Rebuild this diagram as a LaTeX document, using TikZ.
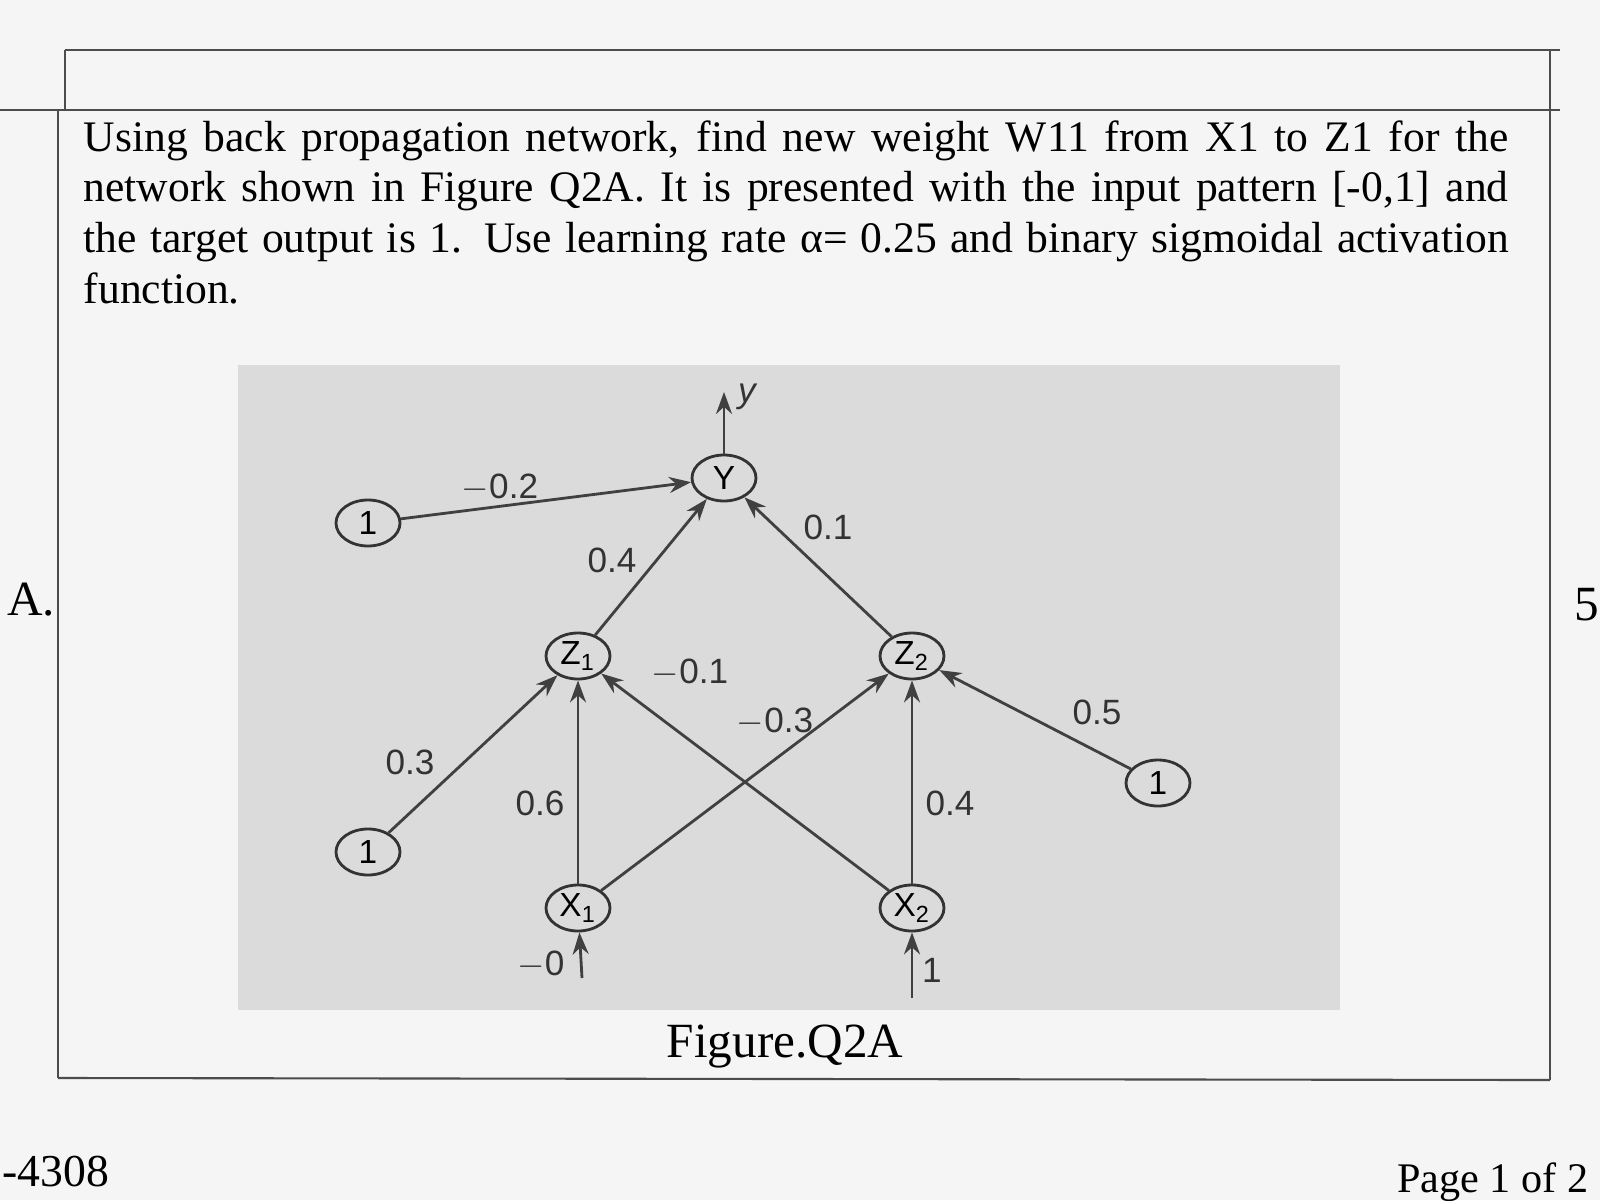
\documentclass[tikz,border=0pt]{standalone}
\usepackage{fontspec}
\setmainfont{Liberation Serif}
\newfontfamily\figfont{Liberation Sans}
\usetikzlibrary{shapes.geometric,arrows.meta}
\begin{document}
\begin{tikzpicture}[
  neuron/.style={draw=black!80,thick,ellipse,minimum width=0.64cm,minimum height=0.46cm,inner sep=0pt,font=\figfont\fontsize{9.5}{10}\selectfont},
  wlab/.style={font=\figfont\fontsize{10}{11}\selectfont,text=black!80},
  conn/.style={thick,draw=black!75,-{Stealth[length=2.2mm,width=1.6mm]}},
  rule/.style={draw=black!70,line width=0.6pt}]
\useasboundingbox[fill=gray!8] (0,0) rectangle (16,12);
% table rules
\draw[rule] (0.65,11.5) -- (0.65,10.9);
\draw[rule] (0,10.9) -- (15.6,10.9);
\draw[rule] (0.58,10.9) -- (0.58,1.22);
\draw[rule] (15.5,11.5) -- (15.5,1.2);
\draw[rule] (0.58,1.22) -- (15.5,1.2);
\draw[rule] (0.65,11.5) -- (15.6,11.5);
\node[anchor=west,font=\fontsize{14}{16}\selectfont] (A) at (-0.05,6.0) {A.};
\node[anchor=west,font=\fontsize{14}{16}\selectfont] (five) at (15.62,5.95) {5};
\node[anchor=west,font=\fontsize{13}{15}\selectfont] (code) at (-0.1,0.28) {-4308};
\node[anchor=west,font=\fontsize{12}{14}\selectfont] (page) at (13.85,0.18) {Page 1 of 2};
% paragraph
\node[anchor=north west,text width=14.25cm,align=justify,inner sep=0pt,font=\fontsize{12.4}{14.4}\selectfont] (para) at (0.83,10.8)
{Using back propagation network, find new weight W11 from X1 to Z1 for the network shown in Figure Q2A. It is presented with the input pattern [-0,1] and the target output is 1. Use learning rate α= 0.25 and binary sigmoidal activation function.};
% figure background
\fill[gray!28] (2.38,1.90) rectangle (13.40,8.35);
\node[neuron] (b1) at (3.68,6.77) {1};
\node[neuron] (b0) at (3.68,3.48) {1};
\node[neuron] (Y) at (7.24,7.22) {Y};
\node[neuron] (Z1) at (5.78,5.44) {Z\textsubscript{1}};
\node[neuron] (Z2) at (9.12,5.44) {Z\textsubscript{2}};
\node[neuron] (X1) at (5.78,2.92) {X\textsubscript{1}};
\node[neuron] (X2) at (9.12,2.92) {X\textsubscript{2}};
\node[neuron] (b2) at (11.58,4.17) {1};
\coordinate (yout) at (7.24,8.08);
\coordinate (x1in) at (5.82,2.22);
\coordinate (x2in) at (9.12,2.02);
\draw[conn] (Y) -- (yout);
\draw[conn] (b1) -- (Y);
\draw[conn] (Z1) -- (Y);
\draw[conn] (Z2) -- (Y);
\draw[conn] (b0) -- (Z1);
\draw[conn] (X1) -- (Z1);
\draw[conn] (X2) -- (Z1);
\draw[conn] (X1) -- (Z2);
\draw[conn] (X2) -- (Z2);
\draw[conn] (b2) -- (Z2);
\draw[conn] (x1in) -- (X1);
\draw[conn] (x2in) -- (X2);
\node[wlab] (ly) at (7.47,8.03) {\itshape y};
\node[wlab] (l1) at (5.0,7.12) {$-$0.2};
\node[wlab] (l2) at (6.12,6.40) {0.4};
\node[wlab] (l3) at (8.28,6.73) {0.1};
\node[wlab] (l4) at (6.90,5.27) {$-$0.1};
\node[wlab] (l5) at (7.75,4.78) {$-$0.3};
\node[wlab] (l6) at (10.97,4.88) {0.5};
\node[wlab] (l7) at (4.10,4.38) {0.3};
\node[wlab] (l8) at (5.40,3.97) {0.6};
\node[wlab] (l9) at (9.50,3.97) {0.4};
\node[wlab] (l10) at (5.41,2.35) {$-$0};
\node[wlab] (l11) at (9.32,2.30) {1};
\node[font=\fontsize{14}{16}\selectfont] (cap) at (7.85,1.53) {Figure.Q2A};
\end{tikzpicture}
\end{document}
